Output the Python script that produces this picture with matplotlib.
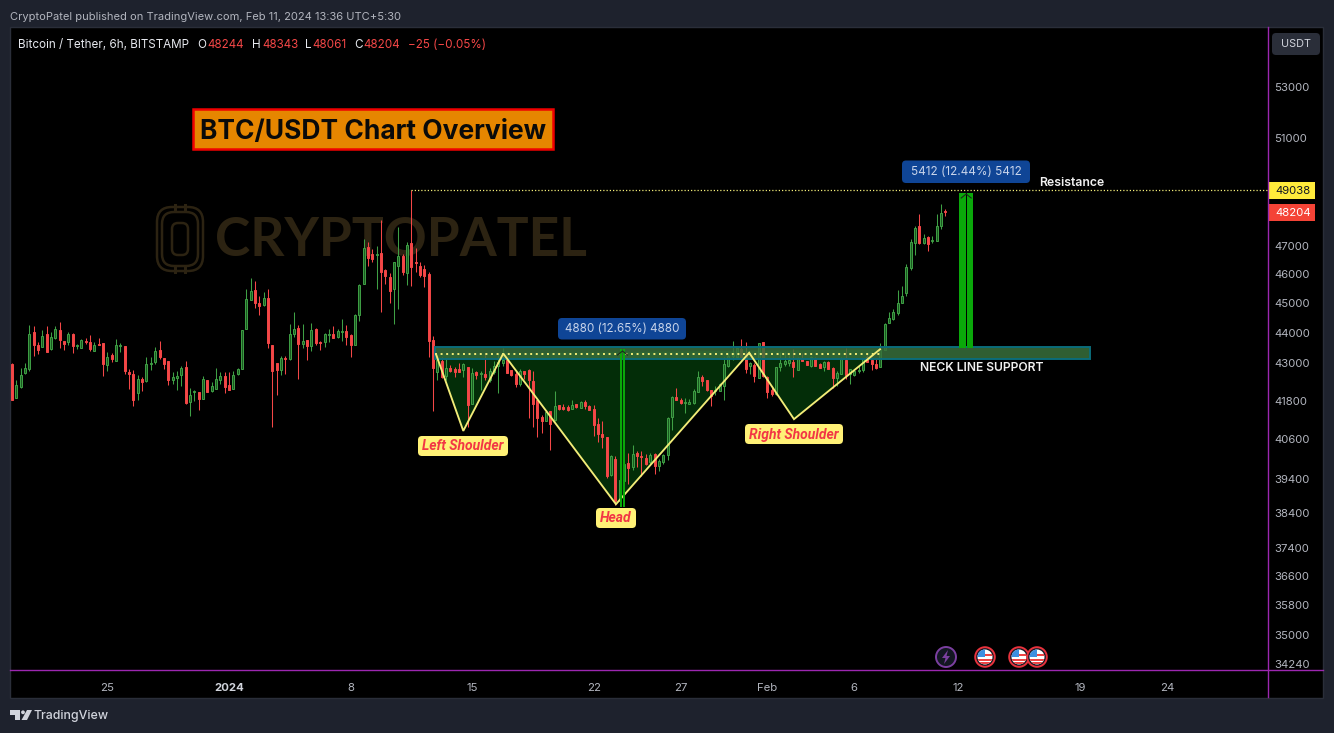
"""BTC/USDT 6h chart with inverse head and shoulders markup."""

import matplotlib
matplotlib.use("Agg")
import matplotlib.pyplot as plt
from matplotlib.patches import Circle, FancyBboxPatch, Polygon, Rectangle
from matplotlib.ticker import FixedLocator, NullLocator

# candle colours, one letter per 6h candle, from Dec 19 18:00 on
directions = (
    "R GGGG RR G R GG RR G R GG RR G RR G R GG RRR G R GGG RRR GGG R GG R G R GGG RR GGGGG RR G RRR G R GG R G R G "
    "RR GG R GG RR GGG RR G RRR GG R G RRRRRR G "
    "R G RRR G R G R G R GGGG RRR G RRRRR G R G RRR G R G RRRRRR G R GG R G RRR G R GGGG RR GGGG RRR GGGGGG RR G R G "
    "RRR GGGG R G RR G RR G RR GG R GGGG RRR GGGGGGGGG R G R GGG R"
).replace(" ", "")
body_tops = [
    42980, 42300, 42620, 42855, 43965, 44030, 43595, 43895, 43965, 43860, 44130, 44095, 43730, 43965, 43965, 43605,
    43760, 43730, 43695, 43595, 43630, 43660, 43205, 43270, 43595, 43605, 43565, 42715, 42650, 42490, 42490, 42980,
    43010, 43400, 43430, 43170, 43075, 42555, 42585, 42845, 42880, 41975, 42105, 42075, 42490, 42455, 42265, 42490,
    42585, 42585, 42300, 42620, 42810, 44095, 45145, 45420, 45450, 45005, 45180, 45180, 43595, 43010, 43170, 43170,
    43965, 44130, 44165, 43730, 43760, 44095, 44130, 43695, 43965, 43965, 43965, 44065, 44065, 44065, 43930, 44595,
    45625, 46920, 46955, 46710, 46710, 46745, 46145, 45900, 46425, 46635, 46635, 47025, 47095, 46425, 46285, 46180,
    46005, 43760, 43105, 43085, 42850, 42860, 42825, 42825, 42975, 42890, 42695, 42730, 42685, 42665, 42750, 42920,
    43030, 43105, 43105, 42780, 42655, 42750, 42750, 42780, 42410, 41810, 41300, 41430, 41465, 41620, 41650, 41600,
    41610, 41650, 41685, 41770, 41760, 41620, 41525, 41080, 40770, 40650, 40070, 39980, 39370, 39830, 39880, 40150,
    40190, 40080, 40010, 40130, 40150, 39920, 40100, 41240, 41900, 41900, 41810, 41760, 41750, 42095, 42540, 42540,
    42445, 42125, 42125, 42315, 42975, 43240, 43350, 43505, 43480, 43350, 43000, 42955, 43665, 43710, 42570, 42125,
    42890, 43020, 43085, 43105, 43050, 43175, 43185, 43085, 43215, 43185, 42985, 43030, 43040, 42860, 42695, 43150,
    43120, 42815, 42760, 42795, 43140, 43215, 43120, 42975, 43470, 44300, 44505, 44705, 45010, 45250, 46240, 47125,
    47625, 47695, 47290, 47300, 47195, 47720, 48190, 48244,
]
body_bottoms = [
    41820, 41880, 42220, 42670, 42800, 43595, 43430, 43540, 43365, 43465, 43830, 43760, 43630, 43695, 43565, 43565,
    43495, 43695, 43465, 43400, 43595, 42980, 42945, 43140, 43075, 43575, 42750, 42650, 41820, 42040, 42390, 42425,
    42980, 43040, 43205, 42980, 42455, 42455, 42520, 42620, 41725, 41750, 42075, 41855, 41855, 42075, 42105, 42165,
    42455, 42235, 42135, 42165, 42650, 42810, 44130, 45110, 45005, 44900, 44940, 43660, 42750, 42780, 42780, 43140,
    43140, 43965, 43630, 43630, 43565, 43565, 43660, 43660, 43695, 43940, 43830, 43860, 44040, 43860, 43595, 43595,
    44595, 45660, 46565, 46530, 46675, 46075, 45935, 45420, 45485, 46285, 46075, 46040, 46250, 46390, 45970, 45935,
    43730, 42845, 42715, 42550, 42580, 42760, 42730, 42730, 42795, 41650, 41685, 42635, 42655, 42540, 42445, 42730,
    42920, 43000, 42695, 42635, 42345, 42345, 42665, 42445, 41685, 41250, 41155, 41175, 41070, 41205, 41545, 41525,
    41495, 41525, 41600, 41580, 41620, 41495, 41050, 40770, 40650, 39470, 39500, 38755, 38755, 39320, 39710, 39740,
    40070, 40060, 39830, 39890, 39770, 39770, 39890, 40100, 41300, 41810, 41715, 41725, 41705, 41725, 42060, 42410,
    42125, 41935, 42095, 42095, 42250, 42920, 43250, 43195, 43140, 42825, 42920, 42600, 42530, 42600, 42060, 42000,
    42000, 42870, 42975, 43020, 42890, 42795, 43085, 42955, 42920, 42920, 42860, 42870, 42825, 42510, 42510, 42665,
    42635, 42655, 42635, 42740, 42785, 43050, 42975, 42840, 42890, 43440, 44320, 44470, 44650, 44990, 45355, 46215,
    47085, 47085, 47085, 47050, 47160, 47170, 47710, 48204,
]
highs = [
    43000, 42455, 42835, 43000, 44265, 44230, 43685, 44095, 44230, 44030, 44230, 44350, 43730, 44030, 43995, 43640,
    43785, 43830, 43930, 43685, 43830, 43660, 43365, 43335, 43795, 43660, 43565, 42810, 42780, 42620, 42555, 43205,
    43205, 43530, 43730, 43170, 43075, 42715, 42750, 42910, 43075, 42200, 42135, 42075, 42585, 42455, 42390, 42845,
    42715, 42715, 42715, 42750, 42845, 44095, 45485, 45865, 45760, 45250, 45385, 45485, 43595, 43010, 43235, 43235,
    44300, 44695, 44265, 44300, 43760, 44330, 44165, 43730, 43995, 44130, 44230, 44130, 44465, 44265, 43965, 44630,
    45660, 47240, 47135, 46885, 46990, 47925, 46180, 46040, 46425, 47675, 46710, 47135, 49038, 46920, 46425, 46320,
    46075, 43895, 43270, 43195, 43175, 42955, 42870, 43020, 43020, 42890, 42850, 42760, 42760, 43340, 42850, 43085,
    43340, 43505, 43140, 42780, 42760, 42815, 42750, 42815, 42760, 41810, 41335, 41495, 41465, 42095, 41650, 41685,
    41650, 41810, 41705, 41790, 41830, 41650, 41650, 41260, 41175, 40680, 40130, 40070, 39450, 39950, 40170, 40430,
    40250, 40230, 40150, 40170, 40190, 40000, 40150, 41300, 41935, 42215, 41875, 41875, 41840, 42155, 42760, 42635,
    42465, 42145, 42280, 42355, 43195, 43350, 43745, 43505, 43790, 43710, 43040, 43000, 43675, 43710, 42600, 42280,
    42890, 43360, 43360, 43285, 43450, 43215, 43350, 43085, 43250, 43215, 43020, 43085, 43085, 42890, 42760, 43195,
    43505, 42815, 42815, 42920, 43140, 43285, 43160, 43140, 43675, 44345, 44705, 44810, 45465, 45580, 46355, 47250,
    47695, 48125, 47430, 47335, 47335, 48150, 48515, 48343,
]
lows = [
    41820, 41880, 42210, 42650, 42760, 43240, 43300, 43540, 43365, 43430, 43795, 43495, 43430, 43595, 43335, 43465,
    43495, 43630, 43400, 43400, 43595, 42585, 42750, 43040, 43075, 43365, 42650, 42165, 41630, 41820, 42105, 42390,
    42780, 42980, 43140, 42810, 42300, 42330, 42135, 42265, 41695, 41315, 41790, 41500, 41855, 42075, 42075, 42165,
    42330, 42040, 42135, 42165, 42620, 42810, 44130, 45110, 44835, 44595, 44900, 43495, 40975, 41975, 42620, 42650,
    43105, 43860, 42490, 43495, 43105, 43400, 43595, 43430, 43530, 43695, 43830, 43830, 43730, 43595, 43205, 43595,
    44395, 45660, 46285, 46425, 45485, 44695, 45660, 45005, 44300, 44800, 45970, 45625, 45590, 46075, 45900, 45555,
    43205, 41470, 42455, 42530, 42465, 42730, 42570, 42730, 42570, 40965, 41685, 42475, 42145, 42445, 42380, 42655,
    42040, 42920, 42695, 42600, 42230, 42250, 42495, 41260, 40965, 40660, 40780, 41175, 40270, 41175, 41515, 41495,
    41465, 41525, 41580, 41560, 41540, 41495, 40710, 40500, 40315, 39430, 39470, 38635, 38610, 38950, 39250, 39650,
    39740, 39470, 39800, 39850, 39530, 39630, 39850, 39950, 40890, 41810, 41685, 41400, 41685, 41705, 42060, 42250,
    42095, 41620, 41970, 42095, 41830, 42870, 43105, 43140, 43105, 42695, 42655, 42380, 42530, 42570, 41875, 41935,
    41970, 42760, 42910, 42920, 42570, 42785, 43085, 42955, 42890, 42920, 42860, 42760, 42805, 42190, 42250, 42665,
    42475, 42335, 42600, 42675, 42705, 43030, 42795, 42825, 42870, 43440, 44320, 44415, 44615, 44990, 45240, 46150,
    46655, 47050, 47050, 46830, 47085, 47170, 47590, 48061,
]

first_candle_day = -12.5  # days from Jan 1 2024
candles_per_day = 4

tick_days = [-7, 0, 7, 14, 21, 26, 31, 36, 42, 49, 54]
tick_names = ["25", "2024", "8", "15", "22", "27", "Feb", "6", "12", "19", "24"]
price_ticks = [53000, 51000, 47000, 46000, 45000, 44000, 43000, 41800, 40600, 39400,
               38400, 37400, 36600, 35800, 35000, 34240]

# pattern outline: left shoulder, head, right shoulder
pattern_days = [11.92, 13.49, 15.79, 22.28, 29.95, 32.53, 37.48]
pattern_prices = [43295, 40853, 43317, 38648, 43342, 41218, 43456]
neck_days = [11.86, 49.57]
neck_low, neck_high = 43152, 43532
neck_dotted = 43295
resistance = 49038
resistance_start = 10.5
move_one = (22.66, 38580, 43460)
move_two = (42.44, 43500, 48912)

BG = "#1e222d"
GREEN = "#3fa045"
GREEN_FILL = "#1a5a20"
RED = "#f44747"
MOVE = "#0aa80a"
YELLOW = "#f2ec78"
PURPLE = "#9c27b0"

plt.rcParams["font.family"] = ["Inter", "DejaVu Sans"]

W, H = 1334, 733
fig = plt.figure(figsize=(W / 100, H / 100), dpi=100, facecolor=BG)


def pixel_axes(zorder):
    a = fig.add_axes([0, 0, 1, 1], zorder=zorder)
    a.set_xlim(0, W)
    a.set_ylim(H, 0)
    a.axis("off")
    return a


under = pixel_axes(0)
ax = fig.add_axes([11 / W, 1 - 670 / H, (1268 - 11) / W, (670 - 28) / H], zorder=1, facecolor="none")
over = pixel_axes(2)

# chart frame and watermark
under.add_patch(Rectangle((10, 27), 1313, 671, fc="black", ec="#2a2e39", lw=1))
WM = "#2c2312"
under.text(215, 240, "CRYPTOPATEL", color=WM, fontsize=38.3, family="Lato", fontweight="bold", va="center", ha="left")
for pad_x, pad_y, r in [(0, 2, 15), (5, 7, 12), (15, 18, 6)]:
    under.add_patch(FancyBboxPatch((157 + pad_x + r, 205 + pad_y + r), 46 - 2 * pad_x - 2 * r, 68 - 2 * pad_y - 2 * r,
                                   boxstyle=f"round,pad={r},rounding_size={r}", fc="none", ec=WM, lw=1.8))
under.add_patch(Rectangle((174, 204), 2.5, 9, fc=WM, ec="none"))
under.add_patch(Rectangle((184, 204), 2.5, 9, fc=WM, ec="none"))
under.add_patch(Rectangle((174, 265), 2.5, 9, fc=WM, ec="none"))
under.add_patch(Rectangle((184, 265), 2.5, 9, fc=WM, ec="none"))

# candles
days = [first_candle_day + i / candles_per_day for i in range(len(highs))]
ax.set_yscale("log")
ax.set_xlim(-12.55, 59.82)
ax.set_ylim(34090, 55421)

ax.fill(pattern_days, pattern_prices, color="#032d08", lw=0, zorder=1)

wick_colors = [GREEN if d == "G" else RED for d in directions]
ax.vlines(days, lows, highs, colors=wick_colors, lw=0.75, zorder=2)
heights = [t - b for t, b in zip(body_tops, body_bottoms)]
ax.bar(days, heights, bottom=body_bottoms, width=0.115,
       color=[GREEN_FILL if d == "G" else RED for d in directions],
       edgecolor=wick_colors, linewidth=0.7, zorder=3)

# neck line zone
ax.add_patch(Rectangle((neck_days[0], neck_low), neck_days[1] - neck_days[0], neck_high - neck_low,
                       fc=(0.22, 0.44, 0.23, 0.85), ec="#0b6c7a", lw=1.4, zorder=4))
ax.plot([neck_days[0], 37.6], [neck_dotted, neck_dotted], color=YELLOW, lw=1.4, ls=(0, (1, 1.88)), zorder=5)
ax.plot(pattern_days, pattern_prices, color=YELLOW, lw=1.35, solid_joinstyle="miter", zorder=5)

# price range tools
ax.bar([move_one[0] - 0.09, move_one[0] + 0.09], [move_one[2] - move_one[1]] * 2, bottom=move_one[1],
       width=0.13, color=MOVE, zorder=6)
ax.bar([move_two[0] - 0.216, move_two[0] + 0.216], [move_two[2] - move_two[1]] * 2, bottom=move_two[1],
       width=0.375, color=MOVE, zorder=6)

ax.plot([resistance_start, 59.82], [resistance, resistance], color=YELLOW, lw=0.9, ls=(0, (1, 1.6)), zorder=5)

ax.yaxis.set_major_locator(FixedLocator(price_ticks))
ax.yaxis.set_minor_locator(NullLocator())
ax.set_yticklabels([str(p) for p in price_ticks])
ax.yaxis.tick_right()
ax.set_xticks(tick_days)
ax.set_xticklabels(tick_names)
ax.tick_params(axis="y", length=0, pad=4.5, labelsize=8.2, labelcolor="#b2b5be")
ax.tick_params(axis="x", length=0, pad=9.5, labelsize=8.2, labelcolor="#b2b5be")
for lab in ax.get_xticklabels():
    if lab.get_text() == "2024":
        lab.set_fontweight("bold")
        lab.set_color("#d1d4dc")
for sp in ax.spines.values():
    sp.set_visible(False)

# crosshair lines
over.plot([10, 1323], [670, 670], color=PURPLE, lw=1)
over.plot([1268, 1268], [27, 697], color=PURPLE, lw=1)

# header text
over.text(10, 16.5, "CryptoPatel published on TradingView.com, Feb 11, 2024 13:36 UTC+5:30",
          color="#b2b5be", fontsize=8.0, va="center")
over.text(17.5, 44.5, "Bitcoin / Tether, 6h, BITSTAMP", color="#e6e8ee", fontsize=8.4, va="center")
for x, s, c in [(197, "O", "#e6e8ee"), (207, "48244", RED), (252, "H", "#e6e8ee"), (262, "48343", RED),
                (305, "L", "#e6e8ee"), (312, "48061", RED), (354, "C", "#e6e8ee"), (363, "48204", RED),
                (408, "\u221225 (\u22120.05%)", RED)]:
    over.text(x, 44.5, s, color=c, fontsize=8.4, va="center")

# title box
over.add_patch(Rectangle((193, 109), 360, 39.5, fc="#e68600", ec="#f00000", lw=1.8))
over.text(372.5, 132.5, "BTC/USDT Chart Overview", color="#0a0a0a", fontsize=19.0, fontweight="bold",
          ha="center", va="center")


def rounded(x0, y0, x1, y1, color, r=4):
    over.add_patch(FancyBboxPatch((x0 + r, y0 + r), x1 - x0 - 2 * r, y1 - y0 - 2 * r,
                                  boxstyle=f"round,pad={r},rounding_size={r}", fc=color, ec="none"))


# range labels
rounded(558, 318, 686, 339.5, "#0f4596")
over.text(622, 329, "4880 (12.65%) 4880", color="#c8d4ea", fontsize=8.4, ha="center", va="center")
rounded(902, 160.5, 1030, 183, "#0f4596")
over.text(966, 172, "5412 (12.44%) 5412", color="#c8d4ea", fontsize=8.5, ha="center", va="center")
over.text(1072, 183, "Resistance", color="#f0f0f0", fontsize=8.8, fontweight="semibold", ha="center", va="center")
over.text(981.5, 368, "NECK LINE SUPPORT", color="#f0f0f0", fontsize=8.7, fontweight="semibold", ha="center", va="center")

# small arrow tips on the range tools
for cx, cy in [(622.5, 351), (966.2, 194)]:
    over.plot([cx - 5, cx, cx + 5], [cy + 4, cy, cy + 4], color="#1a2a1a", lw=0.8)

# pattern labels
for x0, y0, x1, y1, s in [(418, 436, 508, 456, "Left Shoulder"), (596, 508, 636, 528, "Head"),
                          (745, 424, 843, 444, "Right Shoulder")]:
    rounded(x0, y0, x1, y1, "#fff176")
    over.text((x0 + x1) / 2, (y0 + y1) / 2 + 0.5, s, color="#f23645", fontsize=10, family="Roboto",
              style="italic", fontweight="bold", ha="center", va="center")

# right scale tags
rounded(1272, 33, 1320, 55, "#2a2e39")
over.text(1296, 44, "USDT", color="#d1d4dc", fontsize=7.8, ha="center", va="center")
over.add_patch(Rectangle((1269, 182), 46, 17, fc="#ffeb3b", ec="none"))
over.text(1311, 190.8, "49038", color="#131722", fontsize=8.2, ha="right", va="center")
over.add_patch(Rectangle((1269, 204), 46, 17, fc="#f44336", ec="none"))
over.text(1311, 212.8, "48204", color="white", fontsize=8.2, ha="right", va="center")


def flag_icon(cx, cy):
    over.add_patch(Circle((cx, cy), 9.8, fc="#131722", ec="#e8323c", lw=1.4))
    clip = Circle((cx, cy), 7.5, transform=over.transData)
    parts = [Rectangle((cx - 8, cy - 8), 16, 16, fc="white", ec="none")]
    for off in (-3, 1.5, 5):
        parts.append(Rectangle((cx - 8, cy + off), 16, 2.4, fc="#ef4444", ec="none"))
    parts.append(Rectangle((cx - 8, cy - 8), 8, 7.5, fc="#3d8fe0", ec="none"))
    for p in parts:
        over.add_patch(p)
        p.set_clip_path(clip)


# event icons
over.add_patch(Circle((946, 657), 10, fc="#131722", ec="#7b3fa0", lw=1.4))
over.add_patch(Polygon([(948, 650), (942, 658), (945.5, 658), (944, 664), (950, 656), (946.5, 656)],
                       fc="#7b3fa0", ec="none"))
for cx in (985, 1019, 1037):
    flag_icon(cx, 657)

# TradingView footer
over.add_patch(Polygon([(10, 710), (20, 710), (20, 720), (15, 720), (15, 715), (10, 715)], fc="#d1d4dc", ec="none"))
over.add_patch(Circle((23, 712.3), 1.9, fc="#d1d4dc", ec="none"))
over.add_patch(Polygon([(27, 710), (32, 710), (27, 720), (21.5, 720)], fc="#d1d4dc", ec="none"))
over.text(33, 715.5, "TradingView", color="#d1d4dc", fontsize=8.9, fontweight="medium", va="center")

fig.savefig("out.png", dpi=100, facecolor=BG)
